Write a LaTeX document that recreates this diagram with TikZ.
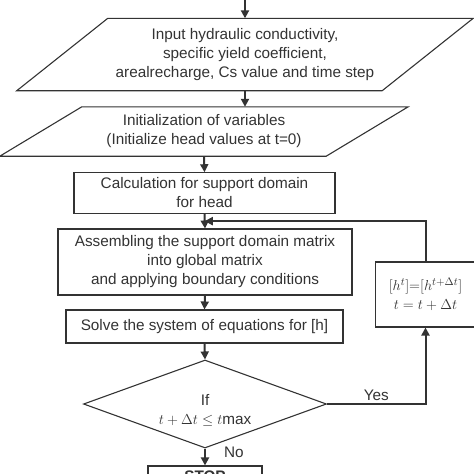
\documentclass[tikz,border=0pt]{standalone}
\usepackage{fontspec}
\setmainfont{Liberation Sans}
\usetikzlibrary{arrows.meta,calc,shapes.geometric}
\definecolor{ink}{HTML}{333333}

\newcommand{\slantframe}[2]{%
  \draw[ink,line width=1.1pt] ($(#1.north west)+(#2,0)$)
    -- ($(#1.north east)+(#2,0)$) -- ($(#1.south east)-(#2,0)$)
    -- ($(#1.south west)-(#2,0)$) -- cycle;}

\begin{document}
\begin{tikzpicture}[x=1pt,y=-1pt,font=\fontsize{15.3}{19}\selectfont,text=ink,
    >={Triangle[length=8pt,width=8pt]},
    flow/.style={draw=ink,line width=2pt,->},
    proc/.style={draw=ink,line width=1.1pt,fill=white,align=center,inner sep=0pt},
    io/.style={align=center,inner sep=0pt}]
  \useasboundingbox (0,0) rectangle (474,474);
  \clip (0,0) rectangle (474,474);

  \coordinate (start) at (245,-6);
  \node[io,minimum width=365pt,minimum height=72pt] (inp) at (245,54.5)
    {Input hydraulic conductivity,\\
     specific yield coefficient,\\
     arealrecharge, Cs value and time step};
  \slantframe{inp}{45.5}
  \node[io,minimum width=326pt,minimum height=49pt] (init) at (204,131.5)
    {Initialization of variables\\(Initialize head values at t=0)};
  \slantframe{init}{41}

  \node[proc,minimum width=261pt,minimum height=40.5pt] (calc) at (204.5,193)
    {Calculation for support domain\\for head};
  \node[proc,minimum width=294pt,minimum height=66pt] (asm) at (205,262)
    {Assembling the support domain matrix\\
     into global matrix\\
     and applying boundary conditions};
  \node[proc,minimum width=277pt,minimum height=33pt] (solve) at (204.5,326.5)
    {Solve the system of equations for [h]};
  \node[diamond,draw=ink,line width=1.1pt,aspect=2.76,inner sep=0pt,
        minimum width=243pt,minimum height=88pt,align=center] (cond) at (205,404)
    {\rule{0pt}{24pt}If\\$t+\Delta t\le t$max};
  \node[proc,minimum width=100pt,minimum height=65pt] (upd) at (425.5,294.5)
    {$[h^t]{=}[h^{t+\Delta t}]$\\$t=t+\Delta t$};
  \node[proc,minimum width=114pt,minimum height=21pt,
        font=\fontsize{15.3}{19}\selectfont\bfseries] (stop) at (205,476.5) {STOP};

  \coordinate (join) at ($(calc.south)!0.5!(asm.north)$);

  \draw[flow] (start) -- (inp.north);
  \draw[flow] (inp.south) -- (inp.south |- init.north);
  \draw[flow] (init.south) -- (calc.north);
  \draw[flow] (calc.south) -- (asm.north);
  \draw[flow] (asm.south) -- (solve.north);
  \draw[flow] (solve.south) -- (cond.north);
  \draw[flow] (cond.south) -- (stop.north)
    node[pos=0.25,right=18pt,inner sep=0pt] {No};
  \draw[flow] (cond.east) -| (upd.south)
    node[pos=0.25,above=2pt,inner sep=0pt] {Yes};
  \draw[flow] (upd.north) |- (join);
\end{tikzpicture}
\end{document}
